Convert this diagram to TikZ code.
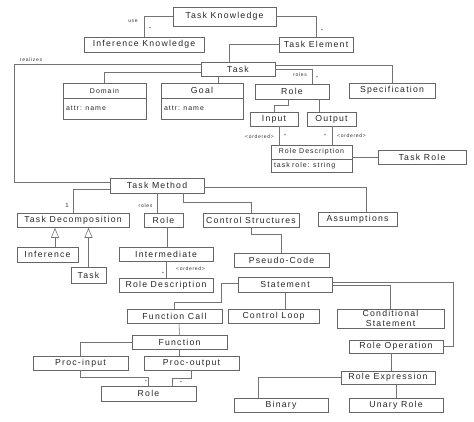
\documentclass[tikz,border=0pt]{standalone}
\usepackage{fontspec}
\newfontfamily\umlfont[LetterSpace=14]{Liberation Sans}
\usetikzlibrary{arrows.meta}

\tikzset{
  cls/.style={draw=black!60, line width=0.6pt, inner sep=0pt, text=black!85,
    font=\umlfont\fontsize{8.7}{10}\selectfont},
  box/.style 2 args={cls, minimum width=#1pt, minimum height=#2pt},
  smallbox/.style 2 args={box={#1}{#2}, font=\umlfont\fontsize{7}{8}\selectfont},
  body/.style 2 args={cls, font=\umlfont\fontsize{7}{8}\selectfont, align=left,
    inner xsep=3pt, text width=#1pt, minimum height=#2pt},
  wire/.style={draw=black!55, line width=0.6pt},
  gen/.style={wire, -{Triangle[open,length=10pt,width=8pt]}},
  lbl/.style={inner sep=0pt, text=black!80, font=\umlfont\fontsize{5}{6}\selectfont}
}

\begin{document}
\begin{tikzpicture}[x=1pt,y=-1pt]
\useasboundingbox (0,0) rectangle (474,421);

%knowledge
\node[box={103}{19}] (tk) at (224.5,16.5) {Task Knowledge};
\node[box={120}{15}] (ik) at (144,44.5) {Inference Knowledge};
\node[box={74}{15}] (te) at (316,44.5) {Task Element};
\draw[wire] (tk.west) -| (ik.north);
\draw[wire] (tk.east) -| (te.north);
\node[lbl] at (133,21) {use};
\node[lbl] at (150,29) {*};
\node[lbl] at (322,31) {*};

%task
\node[box={74}{14}] (task) at (238,69) {Task};
\draw[wire] (te.west) -| ([xshift=-9pt]task.north);

%domain, goal
\node[smallbox={83}{15}] (dom) at (104.5,90.5) {Domain};
\node[body={77}{21}] (domattr) at (104.5,108.5) {attr: name};
\node[box={82}{15}] (goal) at (202,90.5) {Goal};
\node[body={76}{21}] (goalattr) at (202,108.5) {attr: name};
\draw[wire] ([yshift=-3pt]task.west) -| (dom.north);
\draw[wire] ([xshift=-20pt]task.south) -- ([xshift=16pt]goal.north);

%roles of task
\node[box={74}{15}] (role) at (292,91.5) {Role};
\node[box={86}{15}] (spec) at (392,90.5) {Specification};
\draw[wire] ([yshift=4pt]task.east) -| (spec.north);
\draw[wire] (task.east) -| ([xshift=20pt]role.north);
\node[lbl] at (300,75) {roles};
\node[lbl] at (317,78) {*};

%input, output
\node[box={48}{14}] (input) at (274,119) {Input};
\node[box={49}{14}] (output) at (331.5,119) {Output};
\draw[wire] ([xshift=-4pt]role.south) -- ++(0,6) -| (input.north);
\draw[wire] ([xshift=27pt]role.south) -- ([xshift=-12.5pt]output.north);

%role description
\node[smallbox={81}{14}] (rd) at (311.5,152) {Role Description};
\node[body={75}{13}] (rdattr) at (311.5,165.5) {task role: string};
\node[box={88}{14}] (taskrole) at (422,157) {Task Role};
\draw[wire] ([xshift=5pt]input.south) -- ([xshift=-32.5pt]rd.north);
\draw[wire] ([xshift=0.5pt]output.south) -- ([xshift=20.5pt]rd.north);
\draw[wire] ([yshift=-5pt]rd.east) -- (taskrole.west);
\node[lbl] at (259.5,136.5) {<ordered>};
\node[lbl] at (285,136) {*};
\node[lbl] at (325,136) {*};
\node[lbl] at (351.5,136) {<ordered>};

%task method
\node[box={94}{15}] (tm) at (157,185.5) {Task Method};
\coordinate (rz) at (14,182);
\draw[wire] ([yshift=5pt]task.west) -| (rz) -- (rz -| tm.west);
\node[lbl] at (31,60) {realizes};

\node[box={112}{14}] (td) at (73,220.5) {Task Decomposition};
\node[box={39}{14}] (role2) at (163.5,220) {Role};
\node[box={96}{14}] (cs) at (251,220) {Control Structures};
\node[box={79}{14}] (ass) at (357.5,219.5) {Assumptions};
\draw[wire] ([yshift=-3.5pt]tm.west) -| (td.north);
\draw[wire] (tm.south) -- ([xshift=-6.5pt]role2.north);
\draw[wire] ([xshift=26pt]tm.south) -- ++(0,9) -| (cs.north);
\draw[wire] ([yshift=-1.5pt]tm.east) -| ([xshift=8.5pt]ass.north);
\node[lbl, font=\umlfont\fontsize{6}{7}\selectfont] at (67,205) {1};
\node[lbl] at (145.5,206) {roles};

%decomposition
\node[box={61}{15}] (inf) at (47.5,254.5) {Inference};
\node[box={35}{16}] (tsk) at (88.5,275) {Task};
\draw[gen] ([xshift=7.5pt]inf.north) -- ([xshift=-18pt]td.south);
\draw[gen] (tsk.north) -- ([xshift=15.5pt]td.south);

%intermediate
\node[box={94}{14}] (int) at (166,254) {Intermediate};
\node[box={94}{14}] (rd2) at (166,285) {Role Description};
\draw[wire] ([xshift=3.5pt]role2.south) -- ([xshift=1pt]int.north);
\draw[wire] (int.south) -- (rd2.north);
\node[lbl] at (163,274) {*};
\node[lbl] at (190.5,269) {<ordered>};

%pseudo-code
\node[box={95}{14}] (pseudo) at (281.5,260) {Pseudo-Code};
\draw[wire] (cs.south) -- ++(0,7) -| (pseudo.north);

%statement
\node[box={94}{15}] (stmt) at (285,284.5) {Statement};
\node[box={95}{14}] (fc) at (174.5,316) {Function Call};
\node[box={91}{14}] (cl) at (273.5,316) {Control Loop};
\node[box={107}{19}, align=center, font=\umlfont\fontsize{8.7}{10.5}\selectfont] (cond) at (390.5,318.5) {Conditional\\Statement};
\node[box={94}{13}] (ro) at (396,346.5) {Role Operation};
\draw[wire] ([yshift=1.5pt]stmt.west) -| ++(-16,19) -| (fc.north);
\draw[wire] (stmt.south) -- ([xshift=11.5pt]cl.north);
\draw[wire] ([yshift=-0.5pt]stmt.east) -| (cond.north);
\draw[wire] ([yshift=2.5pt]stmt.east) -| ([xshift=10pt]ro.east) -- (ro.east);

%function
\node[box={95}{14}] (func) at (179.5,342) {Function};
\node[box={95}{14}] (pin) at (80.5,363) {Proc-input};
\node[box={95}{14}] (pout) at (191.5,363) {Proc-output};
\node[box={95}{15}] (role3) at (148.5,393.5) {Role};
\draw[wire] ([xshift=4.5pt]fc.south) -- (func.north);
\draw[wire] (func.west) -| (pin.north);
\draw[wire] (func.south) -- ([xshift=-12pt]pout.north);
\draw[wire] (pin.south) -- ++(0,7) -| (role3.north);
\draw[wire] (pout.south) -- ++(0,8) -| ([xshift=23.5pt]role3.north);
\node[lbl] at (146,382) {*};
\node[lbl] at (181,383) {*};

%role expression
\node[box={94}{13}] (re) at (388,377.5) {Role Expression};
\node[box={94}{14}] (bin) at (281,405) {Binary};
\node[box={94}{14}] (unary) at (396,405) {Unary Role};
\draw[wire] ([xshift=-5pt]ro.south) -- ([xshift=3pt]re.north);
\draw[wire] (re.west) -| ([xshift=-23pt]bin.north);
\draw[wire] ([xshift=8pt]re.south) -- (unary.north);
\end{tikzpicture}
\end{document}
